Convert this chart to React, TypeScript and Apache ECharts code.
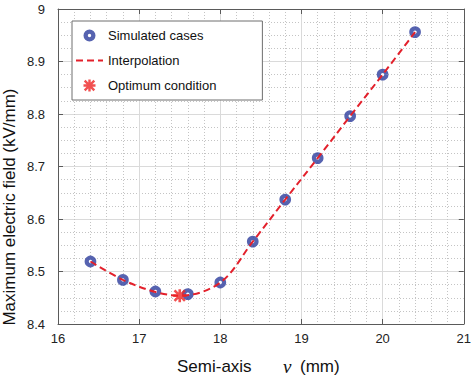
import React, { useEffect, useRef } from "react";
import * as echarts from "echarts";

const simX = [16.4, 16.8, 17.2, 17.6, 18.0, 18.4, 18.8, 19.2, 19.6, 20.0, 20.4];
const simY = [8.519, 8.484, 8.462, 8.457, 8.479, 8.557, 8.637, 8.716, 8.796, 8.875, 8.956];
const interpX = [16.4, 16.8, 17.2, 17.5, 18.0, 18.4, 18.8, 19.2, 19.6, 20.0, 20.4];
const interpY = [8.519, 8.484, 8.461, 8.454, 8.479, 8.557, 8.637, 8.716, 8.796, 8.875, 8.956];
const optX = [17.5];
const optY = [8.454];
const legendNames = ["Simulated cases", "Interpolation", "Optimum condition"];

const STAR =
  "path://M0,4 L10,4 L10,6 L0,6 Z M4,0 L6,0 L6,10 L4,10 Z M0.3,1.7 L1.7,0.3 L9.7,8.3 L8.3,9.7 Z M8.3,0.3 L9.7,1.7 L1.7,9.7 L0.3,8.3 Z";
const RING =
  "path://M6,0 A6,6 0 1,1 6,12 A6,6 0 1,1 6,0 Z M6,4.3 A1.7,1.7 0 1,0 6,7.7 A1.7,1.7 0 1,0 6,4.3 Z";

const FONT = "'Liberation Sans', Arial, sans-serif";
const AXIS_COLOR = "#5a5a5a";
const BLUE = "#2c3c9c";
const RED = "#e3202b";

export default function App() {
  const ref = useRef<HTMLDivElement>(null);
  useEffect(() => {
    if (!ref.current) return;
    const chart = echarts.init(ref.current, null, { renderer: "svg" });
    const pairs = (xs: number[], ys: number[]) => xs.map((x, i) => [x, ys[i]]);
    const axisCommon = {
      type: "value" as const,
      axisLine: { show: true, lineStyle: { color: AXIS_COLOR, width: 1 } },
      axisTick: { show: true, inside: true, length: 5, lineStyle: { color: AXIS_COLOR } },
    };
    chart.setOption({
      animation: false,
      backgroundColor: "#ffffff",
      textStyle: { fontFamily: FONT },
      grid: { left: 58, right: 3, top: 9, bottom: 55, containLabel: false },
      legend: {
        data: [
          { name: legendNames[0], icon: RING, itemStyle: { color: BLUE, borderWidth: 0 } },
          { name: legendNames[1], itemStyle: { opacity: 0 } },
          { name: legendNames[2] },
        ],
        orient: "vertical",
        left: 72,
        top: 21,
        itemWidth: 27,
        itemHeight: 12,
        itemGap: 12,
        padding: [8, 46, 8, 3],
        backgroundColor: "#ffffff",
        borderColor: "#6e6e6e",
        borderWidth: 1,
        textStyle: { fontSize: 13, color: "#111", fontFamily: FONT },
      },
      xAxis: [
        {
          ...axisCommon,
          position: "bottom",
          min: 16,
          max: 21,
          interval: 1,
          axisLabel: { fontSize: 13, color: "#222", margin: 8, fontFamily: FONT },
          splitLine: { show: true, lineStyle: { color: "#dadada", width: 1 } },
          minorTick: { show: false, splitNumber: 5 },
          minorSplitLine: { show: true, lineStyle: { color: "#c4c4c4", type: [1, 2], width: 1 } },
        },
        {
          ...axisCommon,
          position: "top",
          min: 16,
          max: 21,
          interval: 1,
          axisLabel: { show: false },
          splitLine: { show: false },
        },
      ],
      yAxis: [
        {
          ...axisCommon,
          position: "left",
          min: 8.4,
          max: 9,
          interval: 0.1,
          axisLabel: { fontSize: 13, color: "#222", margin: 13, fontFamily: FONT },
          splitLine: { show: true, lineStyle: { color: "#dadada", width: 1 } },
          minorTick: { show: false, splitNumber: 4 },
          minorSplitLine: { show: true, lineStyle: { color: "#c4c4c4", type: [1, 2], width: 1 } },
        },
        {
          ...axisCommon,
          position: "right",
          min: 8.4,
          max: 9,
          interval: 0.1,
          axisLabel: { show: false },
          splitLine: { show: false },
        },
      ],
      series: [
        {
          name: "Simulated cases",
          type: "scatter",
          data: pairs(simX, simY),
          symbol: "circle",
          symbolSize: 7.5,
          itemStyle: { color: "#ffffff", borderColor: BLUE, borderWidth: 4.2 },
          z: 2,
        },
        {
          name: "Interpolation",
          type: "line",
          data: pairs(interpX, interpY),
          smooth: 0.35,
          symbol: "circle",
          showSymbol: false,
          lineStyle: { color: RED, width: 2, type: [7, 4] },
          itemStyle: { color: RED },
          z: 3,
        },
        {
          name: "Optimum condition",
          type: "scatter",
          data: pairs(optX, optY),
          symbol: STAR,
          symbolSize: 13,
          itemStyle: { color: "#ee2424" },
          z: 4,
        },
      ],
      graphic: [
        {
          type: "text",
          x: 9,
          y: 207,
          rotation: Math.PI / 2,
          style: {
            text: "Maximum electric field (kV/mm)",
            font: `17px ${FONT}`,
            fill: "#111",
            textAlign: "center",
            textVerticalAlign: "middle",
          },
        },
        {
          type: "text",
          x: 177,
          y: 366,
          style: {
            text: "Semi-axis",
            font: `17px ${FONT}`,
            fill: "#111",
            textAlign: "left",
            textVerticalAlign: "middle",
          },
        },
        {
          type: "text",
          x: 283,
          y: 366,
          style: {
            text: "v",
            font: `italic 19px 'Liberation Serif', 'Times New Roman', serif`,
            fill: "#111",
            textAlign: "left",
            textVerticalAlign: "middle",
          },
        },
        {
          type: "text",
          x: 300,
          y: 366,
          style: {
            text: "(mm)",
            font: `17px ${FONT}`,
            fill: "#111",
            textAlign: "left",
            textVerticalAlign: "middle",
          },
        },
      ],
    });
    return () => chart.dispose();
  }, []);
  return (
    <div
      ref={ref}
      style={{ position: "absolute", left: 0, top: 0, width: 474, height: 379 }}
    />
  );
}
